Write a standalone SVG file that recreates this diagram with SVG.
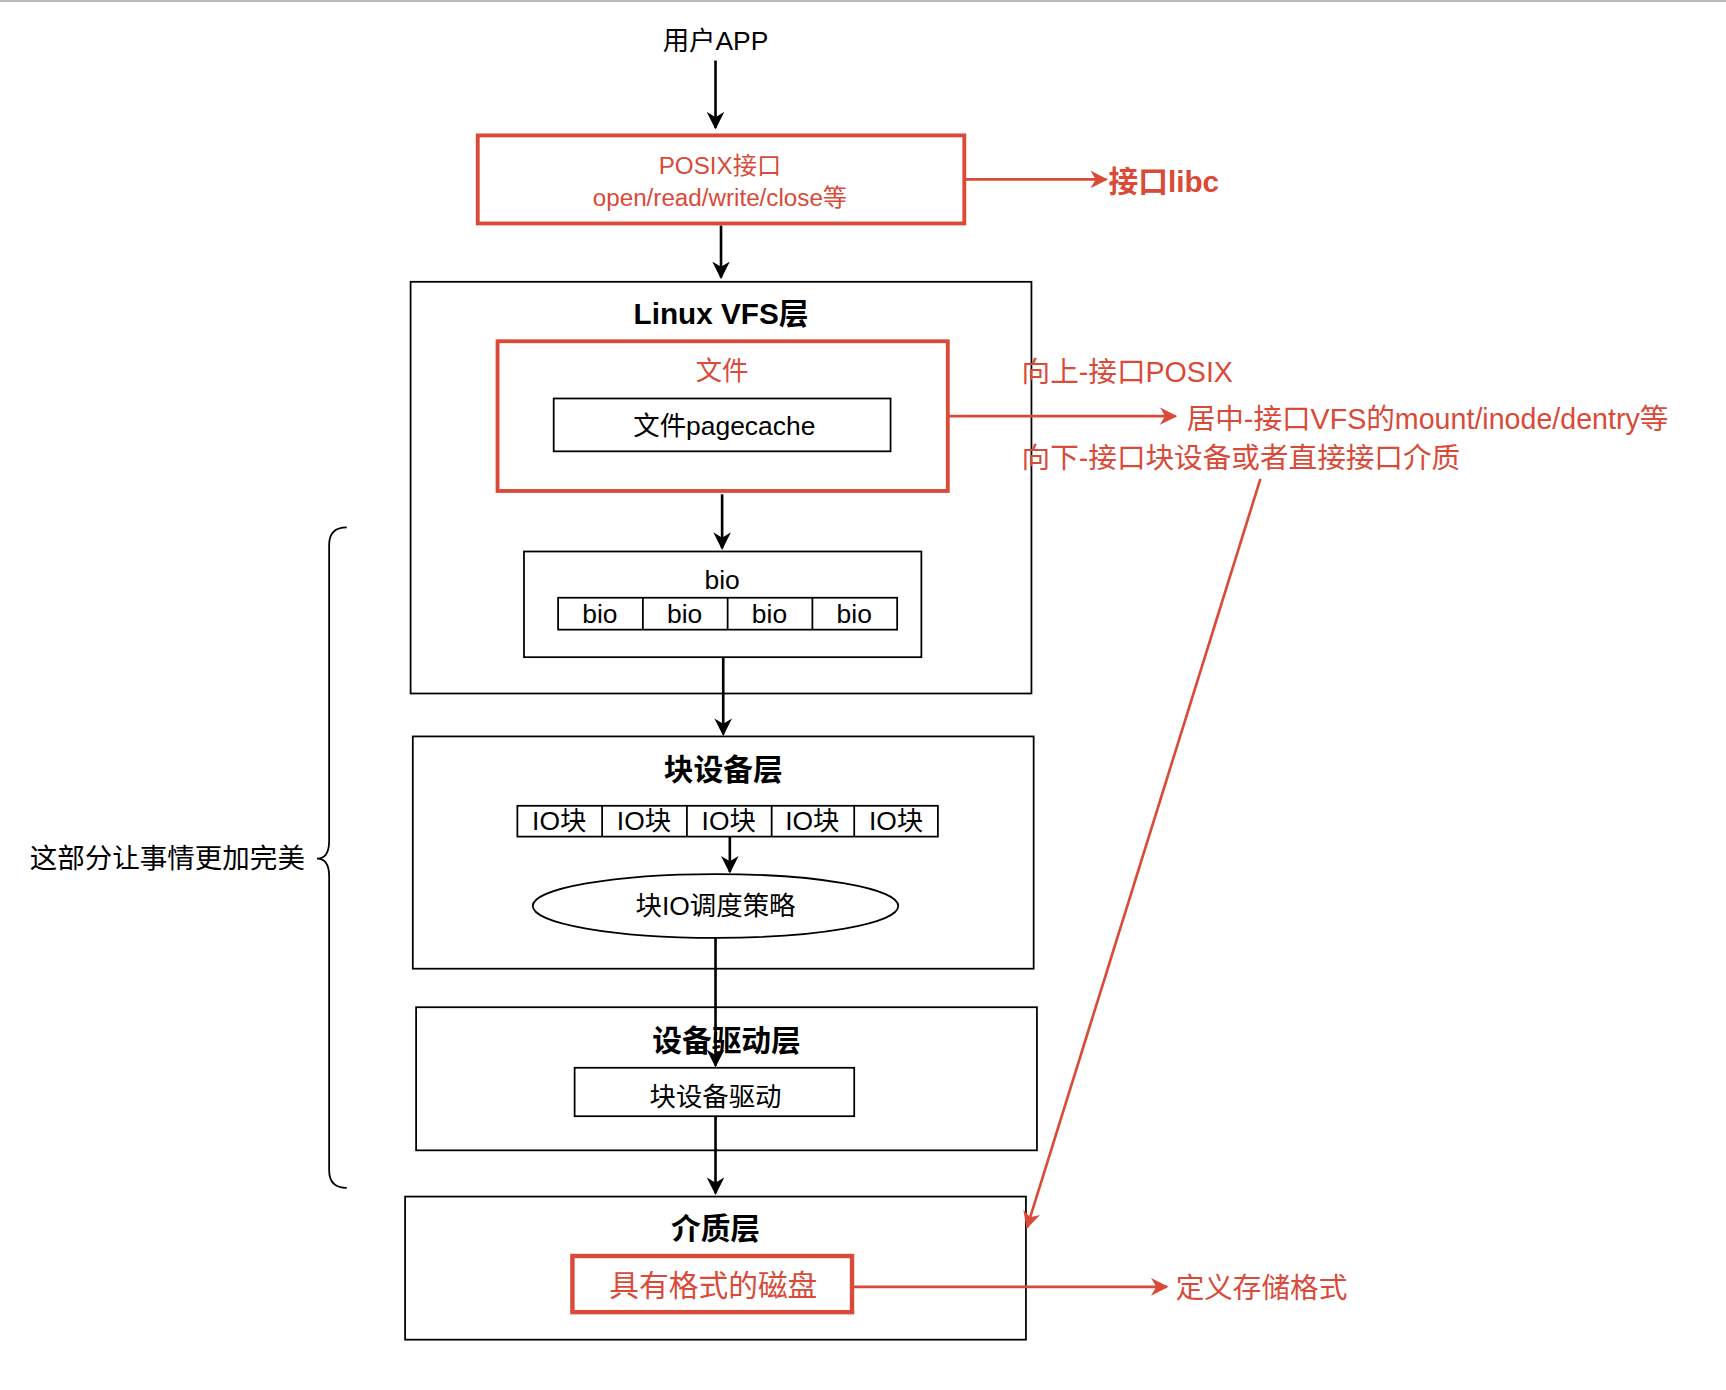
<svg xmlns="http://www.w3.org/2000/svg" width="1726" height="1390" viewBox="0 0 1726 1390">
<defs>
<style>
text{font-family:"Liberation Sans","Noto Sans CJK SC",sans-serif;font-size:24px;fill:#000;dominant-baseline:central}
.c{text-anchor:middle}
.b{font-weight:bold;font-size:27px}
.r{fill:#d94a38}
.bx{fill:none;stroke:#000;stroke-width:1.6}
.rb{fill:none;stroke:#d94a38;stroke-width:3.5}
.ln{stroke:#000;stroke-width:2.4;fill:none}
.rl{stroke:#d94a38;stroke-width:2.4;fill:none}
</style>
<marker id="a" viewBox="0 0 10 10" refX="9" refY="5" markerWidth="7" markerHeight="7" orient="auto" markerUnits="userSpaceOnUse" style="overflow:visible"><path d="M0,0 L10,5 L0,10 L3,5 Z" fill="#000" transform="scale(1.6) translate(-4,-1.9)"/></marker>
<marker id="ar" viewBox="0 0 10 10" refX="9" refY="5" markerWidth="16" markerHeight="16" orient="auto" markerUnits="userSpaceOnUse"><path d="M0,0 L10,5 L0,10 L3,5 Z" fill="#d94a38"/></marker>
<marker id="ak" viewBox="0 0 10 10" refX="9" refY="5" markerWidth="16" markerHeight="16" orient="auto" markerUnits="userSpaceOnUse"><path d="M0,0 L10,5 L0,10 L3,5 Z" fill="#000"/></marker>
</defs>
<rect width="1726" height="1390" fill="#fff"/>
<line x1="0" y1="1" x2="1726" y2="1" stroke="#bbb" stroke-width="2"/>
<g transform="scale(1.1008)">
<g id="app"><text class="c" x="650" y="37">用户APP</text></g>
<g id="posix"><rect class="rb" x="434" y="123" width="442" height="80"/><text class="c r" x="654" y="150" style="font-size:22px">POSIX接口</text><text class="c r" x="654" y="179" style="font-size:22px">open/read/write/close等</text></g>
<g id="libc"><text class="r b" x="1007" y="165">接口libc</text></g>
<g id="vfs"><rect class="bx" x="373" y="256" width="564" height="374"/><text class="c b" x="655" y="285">Linux VFS层</text></g>
<g id="file"><rect class="rb" x="452" y="310" width="409" height="136"/><text class="c r" x="656" y="337">文件</text><rect class="bx" x="503" y="362" width="306" height="48"/><text class="c" x="658" y="387">文件pagecache</text></g>
<g id="notes"><text class="r" x="928" y="338" style="font-size:26px">向上-接口POSIX</text><text class="r" x="1078" y="381" style="font-size:26px">居中-接口VFS的mount/inode/dentry等</text><text class="r" x="928" y="416" style="font-size:26px">向下-接口块设备或者直接接口介质</text></g>
<g id="bio"><rect class="bx" x="476" y="501" width="361" height="96"/><text class="c" x="656" y="527">bio</text><rect class="bx" x="507" y="543" width="308" height="29"/><path class="bx" d="M584,543V572M661,543V572M738,543V572"/><text class="c" x="545" y="558">bio</text><text class="c" x="622" y="558">bio</text><text class="c" x="699" y="558">bio</text><text class="c" x="776" y="558">bio</text></g>
<g id="block"><rect class="bx" x="375" y="669" width="564" height="211"/><text class="c b" x="657" y="699">块设备层</text><rect class="bx" x="470" y="732" width="382" height="28"/><path class="bx" d="M547,732V760M624,732V760M701,732V760M776,732V760"/><text class="c" x="508" y="746">IO块</text><text class="c" x="585" y="746">IO块</text><text class="c" x="662" y="746">IO块</text><text class="c" x="738" y="746">IO块</text><text class="c" x="814" y="746">IO块</text><ellipse class="bx" cx="650" cy="823" rx="166" ry="29"/><text class="c" x="650" y="823">块IO调度策略</text></g>
<g id="driver"><rect class="bx" x="378" y="915" width="564" height="130"/><text class="c b" x="660" y="945">设备驱动层</text><rect class="bx" x="522" y="970" width="254" height="44"/><text class="c" x="650" y="997">块设备驱动</text></g>
<g id="media"><rect class="bx" x="368" y="1087" width="564" height="130"/><text class="c b" x="650" y="1116">介质层</text><rect class="rb" x="520" y="1141" width="254" height="51" style="stroke-width:4"/><text class="c r" x="648" y="1168" style="font-size:27px">具有格式的磁盘</text></g>
<g id="fmt"><text class="r" x="1068" y="1170" style="font-size:26px">定义存储格式</text></g>
<g id="brace"><path class="bx" d="M315,479 Q299,479 299,495 V764 Q299,780 288,780 Q299,780 299,796 V1063 Q299,1079 315,1079"/><text x="277" y="780" style="text-anchor:end;font-size:25px">这部分让事情更加完美</text></g>
<g id="connectors">
<path class="ln" d="M650,55V116" marker-end="url(#ak)"/>
<path class="ln" d="M655,205V252" marker-end="url(#ak)"/>
<path class="ln" d="M656,449V498" marker-end="url(#ak)"/>
<path class="ln" d="M657,597V667" marker-end="url(#ak)"/>
<path class="ln" d="M663,760V792" marker-end="url(#ak)"/>
<path class="ln" d="M650,852V968" marker-end="url(#ak)"/>
<path class="ln" d="M650,1014V1084" marker-end="url(#ak)"/>
<path class="rl" d="M876,163H1005" marker-end="url(#ar)"/>
<path class="rl" d="M861,378H1068" marker-end="url(#ar)"/>
<path class="rl" d="M1145,435L933,1115" marker-end="url(#ar)"/>
<path class="rl" d="M774,1169H1060" marker-end="url(#ar)"/>
</g>
</g>
</svg>
